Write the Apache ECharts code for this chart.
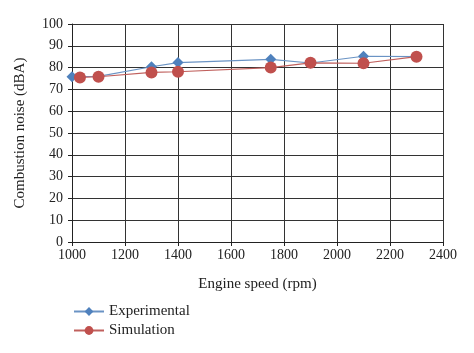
<!DOCTYPE html>
<html>
<head>
<meta charset="utf-8">
<script src="https://cdn.jsdelivr.net/npm/echarts@6/dist/echarts.min.js"></script>
<style>
  html, body { margin: 0; padding: 0; background: #fff; }
  #chart { width: 474px; height: 353px; }
</style>
</head>
<body>
<div id="chart"></div>
<script>
    // values
    var expSpeed = [1000, 1100, 1300, 1400, 1750, 1900, 2100, 2300];
    var expNoise = [75.8, 76, 80.4, 82.3, 83.8, 82.1, 85.2, 85];
    var simSpeed = [1030, 1100, 1300, 1400, 1750, 1900, 2100, 2300];
    var simNoise = [75.5, 75.8, 77.8, 78.1, 80, 82.2, 82, 85];

    var font = '"Liberation Serif", "DejaVu Serif", serif';

    function pairs(xs, ys) {
        return xs.map(function (x, i) { return [x, ys[i]]; });
    }

    var chart = echarts.init(document.getElementById('chart'), null, {renderer: 'canvas'});
    chart.setOption({
        animation: false,
        textStyle: {fontFamily: font},
        grid: {left: 72, right: 31, top: 24, bottom: 111},
        legend: {
            orient: 'vertical',
            left: 68, top: 299,
            itemGap: 4,
            itemWidth: 30, itemHeight: 11,
            textStyle: {fontFamily: font, fontSize: 15, color: '#222'},
            data: ['Experimental', 'Simulation']
        },
        xAxis: {
            type: 'value',
            min: 1000, max: 2400, interval: 200,
            name: 'Engine speed (rpm)',
            nameLocation: 'middle', nameGap: 35,
            nameTextStyle: {fontFamily: font, fontSize: 15, color: '#222'},
            axisLine: {lineStyle: {color: '#222', width: 1}},
            axisTick: {show: true, length: 4, lineStyle: {color: '#222'}},
            axisLabel: {
                fontFamily: font, fontSize: 14, color: '#222', margin: 6,
                formatter: function (v) { return String(v); }
            },
            splitLine: {show: true, lineStyle: {color: '#333', width: 1}}
        },
        yAxis: {
            type: 'value',
            min: 0, max: 100, interval: 10,
            name: 'Combustion noise (dBA)',
            nameLocation: 'middle', nameGap: 44,
            nameTextStyle: {fontFamily: font, fontSize: 15, color: '#222'},
            axisLine: {show: true, lineStyle: {color: '#222', width: 1}},
            axisTick: {show: true, length: 4, lineStyle: {color: '#222'}},
            axisLabel: {fontFamily: font, fontSize: 14, color: '#222', margin: 9},
            splitLine: {show: true, lineStyle: {color: '#333', width: 1}}
        },
        series: [
            {
                name: 'Experimental',
                type: 'line',
                data: pairs(expSpeed, expNoise),
                symbol: 'diamond', symbolSize: 11,
                itemStyle: {color: '#4F81BD'},
                lineStyle: {color: '#6a93c4', width: 1.2},
                z: 2
            },
            {
                name: 'Simulation',
                type: 'line',
                data: pairs(simSpeed, simNoise),
                symbol: 'circle', symbolSize: 12,
                itemStyle: {color: '#C0504D'},
                lineStyle: {color: '#c0605d', width: 1.2},
                z: 3
            }
        ]
    });
</script>
</body>
</html>
